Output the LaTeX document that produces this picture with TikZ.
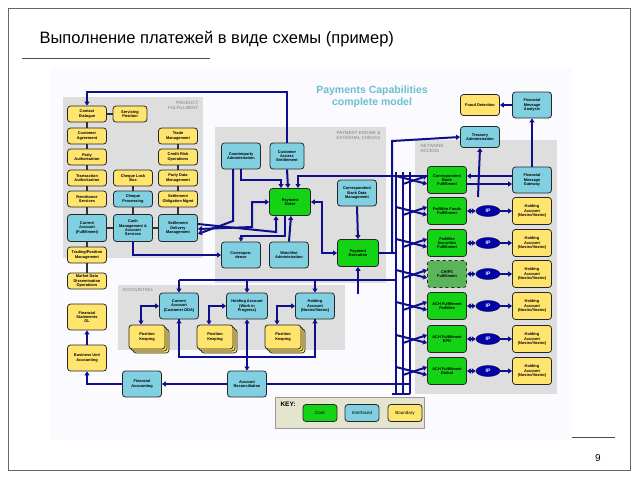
\documentclass[tikz,border=0pt]{standalone}
\usepackage{fontspec}
\setmainfont{Liberation Sans}
\usetikzlibrary{arrows.meta,shapes.geometric}
\definecolor{yel}{RGB}{255,228,110}
\definecolor{blu}{RGB}{128,208,225}
\definecolor{grn}{RGB}{20,210,20}
\definecolor{dgrn}{RGB}{90,180,90}
\definecolor{navy}{RGB}{15,15,140}
\definecolor{pan}{RGB}{222,222,222}
\definecolor{teal}{RGB}{110,190,205}
\tikzset{
 box/.style={draw=black!85,line width=0.8pt,rounded corners=3pt,fill=#1,align=center,
   font=\fontsize{3.9}{4.3}\selectfont\bfseries,inner sep=1pt,minimum width=39pt,minimum height=16pt},
 bb/.style={box=blu,minimum height=26pt},
 yb/.style={box=yel},
 gb/.style={box=grn,minimum height=27pt},
 ln/.style={draw=navy,line width=2pt},
 ar/.style={ln,-{Triangle[length=4pt,width=5pt]}},
 dar/.style={ln,{Triangle[length=4pt,width=5pt]}-{Triangle[length=4pt,width=5pt]}},
 stub/.style={draw=black!80,line width=1.8pt},
 panel/.style={fill=pan},
 plab/.style={font=\fontsize{4.5}{5}\selectfont,text=black!50,align=left},
 ip/.style={ellipse,fill=blue!65!black,draw=blue!35!black,minimum width=24pt,minimum height=11pt,inner sep=0pt,font=\fontsize{5}{5}\selectfont\bfseries,text=white}
}
\begin{document}
\begin{tikzpicture}[x=1pt,y=-1pt]
\useasboundingbox (0,0) rectangle (638,479);
\fill[white] (0,0) rectangle (638,479);
\draw[black!60,line width=0.6pt] (8,8) rectangle (630,470);
\node[anchor=west,font=\fontsize{16.5}{19}\selectfont] (title) at (36,39) {Выполнение платежей в виде схемы (пример)};
\draw[black!70,line width=0.6pt] (22,58) -- (210,58);
\draw[black!70,line width=0.6pt] (435,437) -- (615,437);
\node[font=\fontsize{10}{12}\selectfont] (pg) at (598,458) {9};
\fill[blue!2] (50,68) rectangle (572,440);
% panels
\fill[panel] (63,97) rectangle (203,258);
\fill[panel] (215,127) rectangle (386,283);
\fill[panel] (415,140) rectangle (557,394);
\fill[panel] (118,285) rectangle (345,350);
\node[plab,anchor=north east,align=right] (pl1) at (202,98) {PRODUCT\\FULFILLMENT};
\node[plab,anchor=north east,align=right] (pl2) at (384,128) {PAYMENT ENGINE \&\\EXTERNAL CHECKS};
\node[plab,anchor=north west] (pl3) at (417,141) {NETWORK\\ACCESS};
\node[plab,anchor=north west] (pl4) at (119,285) {ACCOUNTING};
\node[font=\fontsize{10.5}{12.5}\selectfont\bfseries,text=teal,align=center] (mt) at (372,97) {Payments Capabilities\\complete model};
% product fulfillment
\node[yb] (cd) at (87,114) {Contact\\Dialogue};
\node[yb,minimum width=34pt] (sp) at (130,114) {Servicing\\Position};
\node[yb] (ca) at (87,136) {Customer\\Agreement};
\node[yb] (pa) at (87,157) {Party\\Authorization};
\node[yb] (ta) at (87,178) {Transaction\\Authorization};
\node[yb] (rs) at (87,199) {Remittance\\Services};
\node[box=blu,minimum height=27pt] (caf) at (87,228) {Current\\Account\\(Fulfillment)};
\node[yb] (tpm) at (87,255) {Trading/Position\\Management};
\node[yb] (tm) at (178,136) {Trade\\Management};
\node[yb] (cro) at (178,157) {Credit Risk\\Operations};
\node[yb] (pdm) at (178,178) {Party Data\\Management};
\node[yb] (som) at (178,199) {Settlement\\Obligation Mgmt};
\node[box=blu,minimum height=27pt] (sdm) at (178,228) {Settlement\\Delivery\\Management};
\node[yb] (clb) at (133,178) {Cheque Lock\\Box};
\node[box=blu] (cp) at (133,199) {Cheque\\Processing};
\node[box=blu,minimum height=27pt] (cma) at (133,228) {Cash\\Management \&\\Account\\Services};
\node[yb] (mdd) at (87,281) {Market Data\\Dissemination\\Operations};
\node[yb,minimum height=26pt] (fs) at (87,317) {Financial\\Statements\\GL};
\node[yb,minimum height=26pt] (bua) at (87,358) {Business Unit\\Accounting};
% stubs
\draw[stub] (cd) -- (sp); \draw[stub] (cd) -- (ca); \draw[stub] (ca) -- (pa); \draw[stub] (pa) -- (ta);
\draw[stub] (ta) -- (rs); \draw[stub] (rs) -- (caf); \draw[stub] (caf) -- (tpm); \draw[stub] (tpm) -- (mdd);
\draw[stub] (tm) -- (cro); \draw[stub] (cro) -- (pdm); \draw[stub] (pdm) -- (som); \draw[stub] (som) -- (sdm);
\draw[stub] (clb) -- (cp); \draw[stub] (cp) -- (cma); \draw[stub] (caf) -- (cma); \draw[stub] (cma) -- (sdm);
% payment engine
\node[bb] (cpa) at (241,156) {Counterparty\\Administration};
\node[bb,minimum width=34pt] (cae) at (287,156) {Customer\\Access\\Entitlement};
\node[gb,minimum width=41pt] (po) at (290,202) {Payment\\Order};
\node[bb] (cor) at (241,255) {Correspon-\\dence};
\node[bb] (wa) at (289,255) {Watchlist\\Administration};
\node[bb] (cbd) at (357,193) {Correspondent\\Bank Data\\Management};
\node[gb,minimum width=41pt] (pe) at (358,253) {Payment\\Execution};
% network
\node[yb,minimum height=21pt] (fd) at (480,105) {Fraud Detection};
\node[bb] (fma) at (532,105) {Financial\\Message\\Analysis};
\node[box=blu,minimum height=21pt] (tra) at (480,137) {Treasury\\Administration};
\node[gb] (cbf) at (447,180) {Correspondent\\Bank\\Fulfillment};
\node[bb] (fmg) at (532,180) {Financial\\Message\\Gateway};
\node[gb] (ff) at (447,211) {FedWire Funds\\Fulfillment};
\node[gb] (fsf) at (447,243) {FedWire\\Securities\\Fulfillment};
\node[gb,fill=dgrn,dashed] (chips) at (447,274) {CHIPS\\Fulfillment};
\node[gb] (af) at (447,306) {ACH Fulfillment\\FedWire};
\node[gb] (ae) at (447,339) {ACH Fulfillment\\EPN};
\node[gb] (ag) at (447,371) {ACH Fulfillment\\Global};
\foreach \n/\y in {1/211,2/243,3/274,4/306,5/339,6/371}{
  \node[box=yel,minimum height=27pt] (h\n) at (532,\y) {Holding\\Account\\(Nostro/Vostro)};
  \node[ip] (ip\n) at (488,\y) {IP};
  \draw[ar] (ip\n) -- (h\n.west);
}
\draw[dar] (ff) -- (ip1); \draw[dar] (fsf) -- (ip2); \draw[dar] (chips) -- (ip3);
\draw[dar] (af) -- (ip4); \draw[dar] (ae) -- (ip5); \draw[dar] (ag) -- (ip6);
% accounting
\node[bb] (cad) at (179,306) {Current\\Account\\(Customer DDA)};
\node[bb,minimum width=41pt] (hw) at (247,306) {Holding Account\\(Work in\\Progress)};
\node[bb] (hn) at (315,306) {Holding\\Account\\(Nostro/Vostro)};
\foreach \n/\x in {1/147,2/215,3/283}{
  \fill[yel,draw=black!85,line width=0.7pt,rounded corners=3pt] (\x-14,329) rectangle (\x+22,353);
  \fill[yel,draw=black!85,line width=0.7pt,rounded corners=3pt] (\x-16,327) rectangle (\x+20,351);
  \node[box=yel,minimum width=36pt,minimum height=24pt] (pk\n) at (\x,337) {Position\\Keeping};
}
\node[bb] (ar) at (247,384) {Account\\Reconciliation};
\node[bb] (fa) at (142,384) {Financial\\Accounting};
% key
\fill[yellow!10!pan,draw=black!40] (275,397) rectangle (424,428);
\node[anchor=north west,font=\fontsize{6.5}{7}\selectfont\bfseries] (key) at (277,398) {KEY:};
\node[box=grn,minimum width=34pt,minimum height=17pt,font=\fontsize{4.5}{5}\selectfont] (k1) at (320,413) {Core};
\node[box=blu,minimum width=34pt,minimum height=17pt,font=\fontsize{4.5}{5}\selectfont] (k2) at (362,413) {Interfaced};
\node[box=yel,minimum width=34pt,minimum height=17pt,font=\fontsize{4.5}{5}\selectfont] (k3) at (405,413) {Boundary};
% connectors
\draw[ar] (cae.north) -- (287,92) -- (87,92) -- (cd.north);
\draw[ar] (cma.south) -- (133,255) -- (cor.west);
\draw[ar] (233,169) -- (233,221) -- ([yshift=-6pt]sdm.east);
\draw[ar] ([yshift=4pt]sdm.east) -- (276,232) -- (276,216);
\draw[dar] ([yshift=-1pt]sdm.east) -- (252,227) |- (po.west);
\draw[ar] (285,216) -- (285,236) -- (241,236) -- (cor.north);
\draw[ar] (241,169) -- (241,180) -- (281,180) -- (281,188);
\draw[ar] (cae.south) -- (288,188);
\draw[ar] (428,176) -- (298,176) -- (298,188);
\draw[ar] (wa.north) -- (291,216);
\draw[ar] (cbd.south) -- (pe.north);
\draw[dar] (po.east) -- (322,202) |- (pe.west);
% bus
\draw[ln] (pe.east) -- (396,253);
\draw[ar] (392,253) -- (392,141) -- (tra.west);
\foreach \x in {396,403,410}{\draw[ln] (\x,172) -- (\x,394);}
\draw[ln] (392,394) -- (410,394);
\foreach \n in {cbf,ff,fsf,chips,af,ae,ag}{
  \draw[ar] (396,0 |- \n.west) ++(0,-4) -- ([yshift=-4pt]\n.west);
  \draw[ar] (403,0 |- \n.west) ++(0,4) -- ([yshift=4pt]\n.west);
}
\draw[ar] (pe.south) ++(0,27) -- (pe.south);
\draw[ln] (179,280) -- (396,280);
\draw[ar] (179,280) -- (cad.north);
\draw[ar] (247,280) -- (hw.north);
\draw[ar] (315,280) -- (hn.north);
\draw[ln] (ar.east) -- (410,384);
\draw[dar] (hw.south) -- (ar.north);
\draw[ar] (ar.west) -- (fa.east);
\draw[ar] (fa.west) -- (87,384) -- (bua.south);
\draw[ar] (bua.north) -- (fs.south);
\draw[ln] (cad.south) -- (179,357) -- (315,357) -- (hn.south);
\draw[ar] (179,357) -- (cad.south); \draw[ar] (315,357) -- (hn.south);
\foreach \n/\a in {1/cad,2/hw,3/hn}{
  \draw[dar] (pk\n.north) ++(-6,0) |- (\a.west);
}
% network extras
\draw[ar] ([yshift=-4pt]cbf.east) -- ([yshift=-4pt]fmg.west);
\draw[ar] ([yshift=4pt]fmg.west) -- ([yshift=4pt]cbf.east);
\draw[ar] (fmg.north) -- (fma.south);
\draw[ar] (fma.west) -- (fd.east);
\draw[ar] (478,197) -- (tra.south);
\end{tikzpicture}
\end{document}
